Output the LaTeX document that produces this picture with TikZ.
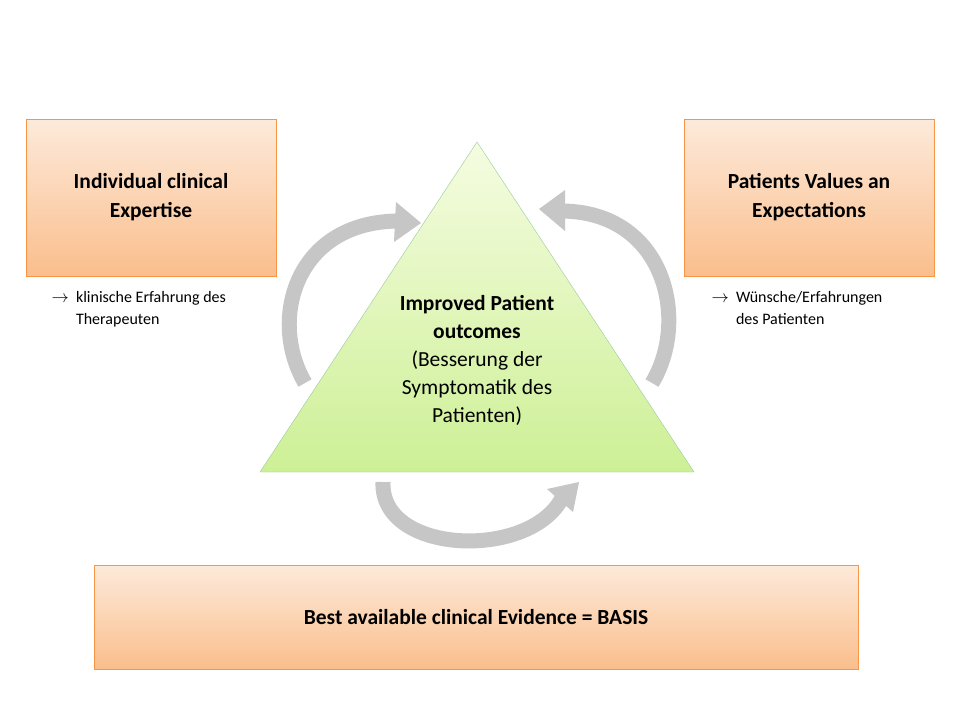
\documentclass[tikz,border=0pt]{standalone}
\usepackage{fontspec}
\setmainfont{Carlito}
\definecolor{otop}{RGB}{253,234,218}
\definecolor{obot}{RGB}{250,190,140}
\definecolor{obrd}{RGB}{247,150,70}
\definecolor{gtop}{RGB}{245,252,225}
\definecolor{gbot}{RGB}{205,240,150}
\begin{document}
\begin{tikzpicture}[x=1pt,y=-1pt,
 obox/.style={draw=obrd, line width=0.6pt, top color=otop, bottom color=obot, align=center, font=\fontsize{21.5}{29}\selectfont\bfseries},
 note/.style={anchor=north west, align=left, font=\fontsize{16}{22}\selectfont},
 garrow/.style={line width=15pt, color=gray!45},
 ghead/.style={fill=gray!45, draw=none}]
\useasboundingbox (0,0) rectangle (960,720);
\fill[white] (0,0) rectangle (960,720);
% triangle
\shade[top color=gtop, bottom color=gbot, draw=green!50!black!40] (477,142) -- (694,472) -- (260,472) -- cycle;
\node[align=center, font=\fontsize{21.5}{28}\selectfont] (tri) at (477,360) {\textbf{Improved Patient}\\\textbf{outcomes}\\(Besserung der\\Symptomatik des\\Patienten)};
% boxes
\node[obox, minimum width=250, minimum height=157] (ice) at (151,197.5) {Individual clinical\\Expertise};
\node[obox, minimum width=250, minimum height=157] (pve) at (809,197.5) {Patients Values an\\Expectations};
\node[obox, minimum width=764, minimum height=104] (bae) at (476,617) {Best available clinical Evidence = BASIS};
\node[note] (n1) at (48,288) {$\rightarrow$\ \ klinische Erfahrung des\\\phantom{$\rightarrow$\ \ }Therapeuten};
\node[note] (n2) at (708,288) {$\rightarrow$\ \ Wünsche/Erfahrungen\\\phantom{$\rightarrow$\ \ }des Patienten};
% curved arrows
\coordinate (la) at (305,383); \coordinate (lb) at (398,221);
\draw[garrow] (la) .. controls (268,320) and (295,222) .. (lb);
\fill[ghead] (421,223) -- (396,202) -- (394,242) -- cycle;
\coordinate (ra) at (652,383); \coordinate (rb) at (562,211);
\draw[garrow] (ra) .. controls (690,320) and (665,212) .. (rb);
\fill[ghead] (539,209) -- (565,190) -- (565,231) -- cycle;
\coordinate (ba) at (383,482); \coordinate (bb) at (562,498);
\draw[garrow] (ba) .. controls (380,555) and (530,560) .. (bb);
\fill[ghead] (579,482) -- (547,489) -- (573,512) -- cycle;
\end{tikzpicture}
\end{document}
